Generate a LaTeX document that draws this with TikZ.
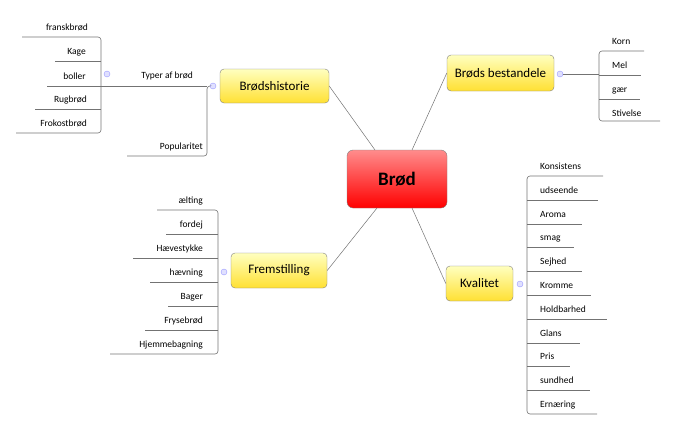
\documentclass[tikz,border=0pt]{standalone}
\usepackage{fontspec}
\setmainfont{Carlito}
\begin{document}
\begin{tikzpicture}[x=1pt,y=-1pt,
  line/.style={draw=black!55,line width=0.6pt,rounded corners=3pt},
  conn/.style={draw=black!55,line width=0.5pt},
  topic/.style={draw=black!50,rounded corners=4pt,top color=yellow!25,bottom color=yellow!70!orange!80,font=\fontsize{13}{15}\selectfont,inner sep=0pt},
  leaf/.style={font=\fontsize{9.5}{11}\selectfont,inner sep=0pt},
  fold/.style={circle,draw=blue!40,fill=blue!12,minimum size=6pt,inner sep=0pt}]
\useasboundingbox (0,0) rectangle (676,431);
% central
\node[draw=black!50,rounded corners=6pt,top color=red!45,bottom color=red,minimum width=100pt,minimum height=58pt,font=\fontsize{19}{21}\selectfont\bfseries] (c) at (397,179) {Brød};
\node[topic,minimum width=109pt,minimum height=34pt] (h) at (274.5,86) {Brødshistorie};
\node[topic,minimum width=107pt,minimum height=36pt] (b) at (500.5,73) {Brøds bestandele};
\node[topic,minimum width=96pt,minimum height=35pt] (f) at (279,270.5) {Fremstilling};
\node[topic,minimum width=67pt,minimum height=35pt] (k) at (479.5,283.5) {Kvalitet};
\draw[conn] (h.east) -- (375,150);
\draw[conn] (b.west) -- (412,150);
\draw[conn] (f.east) -- (377,208);
\draw[conn] (k.west) -- (412,208);
% Brødshistorie subtree
\node[fold] (fh) at (213,86) {};
\draw[line] (fh.west) -- (207,86) -- (207,156) -- (127,156);
\draw[line] (207,86) -- (47,86);
\node[leaf,anchor=base east] (typ) at (193,78) {Typer af brød};
\node[leaf,anchor=base east] (pop) at (203,149) {Popularitet};
\node[fold] (ft) at (107,74) {};
\draw[line] (22,37) -- (101,37) -- (101,133) -- (16,133);
\foreach \y/\x in {61/55,109/35} \draw[line] (101,\y) -- (\x,\y);
\node[leaf,anchor=base east] (l1) at (88,30) {franskbrød};
\node[leaf,anchor=base east] (l2) at (86,54) {Kage};
\node[leaf,anchor=base east] (l3) at (86,79) {boller};
\node[leaf,anchor=base east] (l4) at (87,102) {Rugbrød};
\node[leaf,anchor=base east] (l5) at (87,126) {Frokostbrød};
% bestandele
\node[fold] (fb) at (560,74) {};
\draw[line] (fb.east) -- (599,74);
\draw[line] (644,51) -- (599,51) -- (599,121) -- (660,121);
\foreach \y/\x in {75/641,99/640} \draw[line] (599,\y) -- (\x,\y);
\node[leaf,anchor=base west] (b1) at (612,44) {Korn};
\node[leaf,anchor=base west] (b2) at (612,68) {Mel};
\node[leaf,anchor=base west] (b3) at (612,92) {gær};
\node[leaf,anchor=base west] (b4) at (612,116) {Stivelse};
% Fremstilling
\node[fold] (ff) at (224,272) {};
\draw[line] (157,210) -- (218,210) -- (218,354) -- (110,354);
\foreach \y/\x in {234/166,258/133,282/150,306/168,330/145} \draw[line] (218,\y) -- (\x,\y);
\node[leaf,anchor=base east] (f1) at (203,203) {ælting};
\node[leaf,anchor=base east] (f2) at (203,227) {fordej};
\node[leaf,anchor=base east] (f3) at (203,251) {Hævestykke};
\node[leaf,anchor=base east] (f4) at (203,275) {hævning};
\node[leaf,anchor=base east] (f5) at (203,299) {Bager};
\node[leaf,anchor=base east] (f6) at (203,323) {Frysebrød};
\node[leaf,anchor=base east] (f7) at (203,347) {Hjemmebagning};
% Kvalitet
\node[fold] (fk) at (520,284) {};
\draw[line] (603,176) -- (527,176) -- (527,414) -- (597,414);
\foreach \y/\x in {200/598,224/582,247/574,271/582,295/591,319/607,343/580,366/570,390/590} \draw[line] (527,\y) -- (\x,\y);
\foreach \i/\y/\t in {1/176/Konsistens,2/200/udseende,3/224/Aroma,4/247/smag,5/271/Sejhed,6/295/Kromme,7/319/Holdbarhed,8/343/Glans,9/366/Pris,10/390/sundhed,11/414/Ernæring}
  \node[leaf,anchor=base west] (k\i) at (540,\y-7) {\t};
\end{tikzpicture}
\end{document}
